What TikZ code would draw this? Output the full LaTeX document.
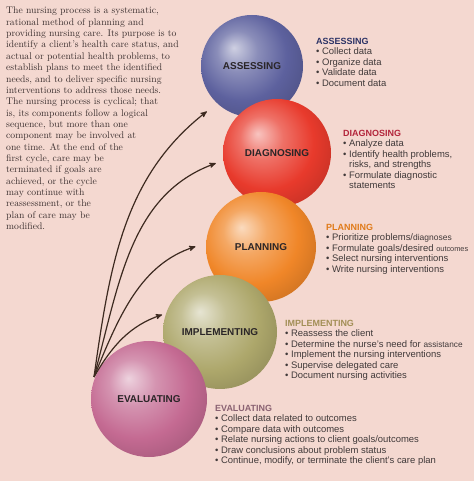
\documentclass[tikz,border=0pt]{standalone}
\usepackage{fontspec}
\setsansfont{Liberation Sans}
\usepackage{xcolor}
\usepackage{tikz}
\usetikzlibrary{arrows}
\definecolor{bgpink}{HTML}{F4D8D0}
\definecolor{textbrown}{HTML}{3A2E2E}
\definecolor{listgray}{HTML}{413A3A}
\definecolor{labelgray}{HTML}{2A2527}
\definecolor{arrowbrown}{HTML}{3D2A20}
\definecolor{assesscol}{HTML}{5D619E}
\definecolor{diagcol}{HTML}{E83A2C}
\definecolor{plancol}{HTML}{F08628}
\definecolor{implcol}{HTML}{ADA76B}
\definecolor{evalcol}{HTML}{C46A92}
\definecolor{assesstitle}{HTML}{2B3266}
\definecolor{diagtitle}{HTML}{B3253B}
\definecolor{plantitle}{HTML}{E07B1A}
\definecolor{impltitle}{HTML}{A38F57}
\definecolor{evaltitle}{HTML}{8A6272}
\colorlet{sphcol}{white}
\pgfdeclareradialshading[sphcol]{orb}{\pgfpoint{-9bp}{9bp}}{color(0bp)=(sphcol!30!white); color(10bp)=(sphcol!72!white); color(22bp)=(sphcol); color(29bp)=(sphcol!90!black); color(50bp)=(sphcol!75!black)}
\tikzset{->,>=stealth',
x=1bp, y=1bp,
stage/.style={circle, minimum size=#1, inner sep=0pt, shading=orb,
  font=\sffamily\bfseries\fontsize{10}{12}\selectfont, text=labelgray},
stage color/.code={\colorlet{sphcol}{#1}},
steplist/.style={anchor=north west, inner sep=0pt, align=left,
  font=\sffamily\fontsize{9.5}{10.5}\selectfont, text=listgray},
cycle arrow/.style={draw=arrowbrown, line width=1.2bp}
}
\newcommand{\ind}{\hphantom{• }}
\newcommand{\head}[2]{\textcolor{#1}{\bfseries\fontsize{9}{10.5}\selectfont #2}}

\begin{document}
\begin{tikzpicture}
\fill[bgpink] (0,0) rectangle (474,481);
\useasboundingbox (0,0) rectangle (474,481);
% intro text
\node[anchor=north west, inner sep=0pt, align=left, text=textbrown,
  font=\fontsize{9.7}{11.4}\selectfont] (intro) at (6,474) {%
The nursing process is a systematic,\\
rational method of planning and\\
providing nursing care. Its purpose is to\\
identify a client’s health care status, and\\
actual or potential health problems, to\\
establish plans to meet the identified\\
needs, and to deliver specific nursing\\
interventions to address those needs.\\
The nursing process is cyclical; that\\
is, its components follow a logical\\
sequence, but more than one\\
component may be involved at\\
one time. At the end of the\\
first cycle, care may be\\
terminated if goals are\\
achieved, or the cycle\\
may continue with\\
reassessment, or the\\
plan of care may be\\
modified.};
% the five stages, lower ones in front
\node[stage=102bp, stage color=assesscol] (assess) at (252,415) {ASSESSING};
\node[stage=108bp, stage color=diagcol] (diag) at (277,328) {DIAGNOSING};
\node[stage=110bp, stage color=plancol] (plan) at (261,234) {PLANNING};
\node[stage=114bp, stage color=implcol] (impl) at (220,149) {IMPLEMENTING};
\node[stage=116bp, stage color=evalcol] (eval) at (149,82) {EVALUATING};
% lists
\node[steplist] (assesslist) at (316,443) {\head{assesstitle}{ASSESSING}\\
• Collect data\\
• Organize data\\
• Validate data\\
• Document data};
\node[steplist] (diaglist) at (343,351) {\head{diagtitle}{DIAGNOSING}\\
• Analyze data\\
• Identify health problems,\\
\ind risks, and strengths\\
• Formulate diagnostic\\
\ind statements};
\node[steplist] (planlist) at (326,257) {\head{plantitle}{PLANNING}\\
• Prioritize problems/{\fontsize{8.5}{10.5}\selectfont diagnoses}\\
• Formulate goals/desired {\fontsize{7.4}{10.5}\selectfont outcomes}\\
• Select nursing interventions\\
• Write nursing interventions};
\node[steplist] (impllist) at (285,161) {\head{impltitle}{IMPLEMENTING}\\
• Reassess the client\\
• Determine the nurse's need for {\fontsize{8.3}{10.5}\selectfont assistance}\\
• Implement the nursing interventions\\
• Supervise delegated care\\
• Document nursing activities};
\node[steplist] (evallist) at (215,76) {\head{evaltitle}{EVALUATING}\\
• Collect data related to outcomes\\
• Compare data with outcomes\\
• Relate nursing actions to client goals/outcomes\\
• Draw conclusions about problem status\\
• Continue, modify, or terminate the client's care plan};
% arrows back from evaluating
\coordinate (hub) at (94,104);
\draw[cycle arrow, shorten >=13bp] (hub) to[out=82, in=218] (assess.227);
\draw[cycle arrow, shorten >=8bp] (hub) to[out=75, in=200] (diag.188);
\draw[cycle arrow, shorten >=11bp] (hub) to[out=68, in=198] (plan.176);
\draw[cycle arrow, shorten >=4bp] (hub) to[out=60, in=199] (impl.161);
\end{tikzpicture}
\end{document}
